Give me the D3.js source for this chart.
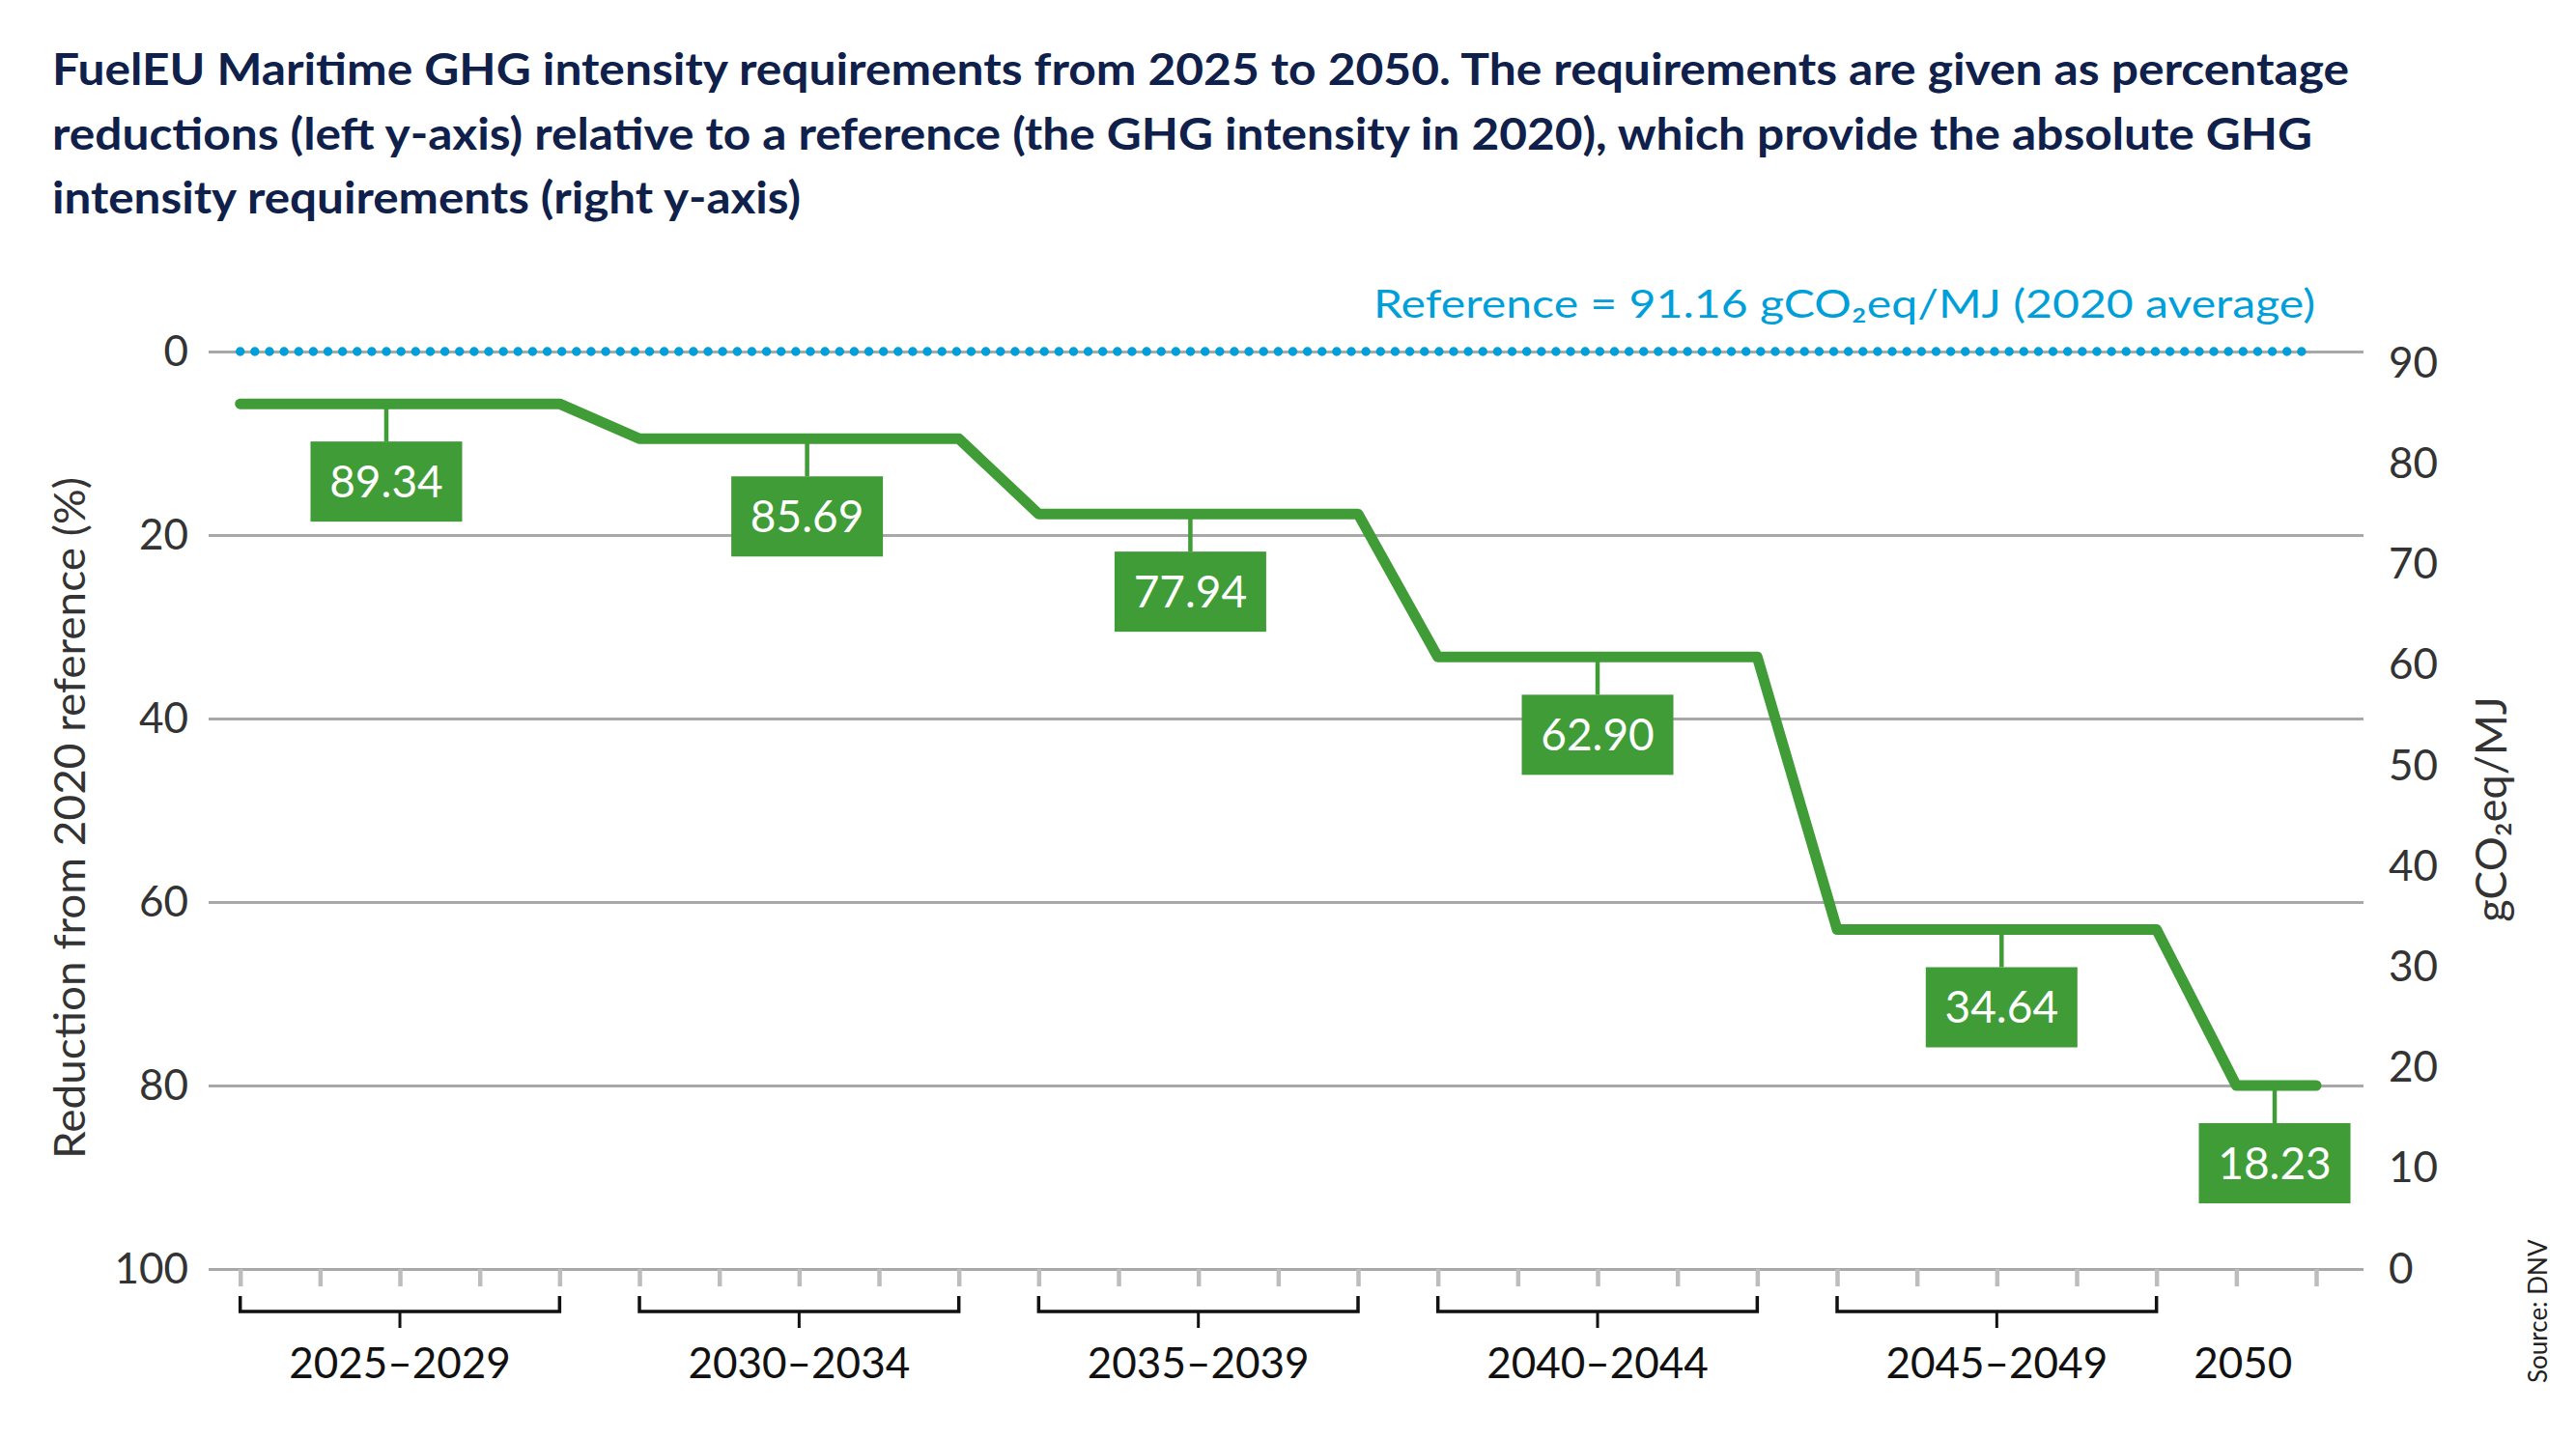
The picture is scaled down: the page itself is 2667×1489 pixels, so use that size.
<!DOCTYPE html>
<html>
<head>
<meta charset="utf-8">
<script src="https://cdn.jsdelivr.net/npm/d3@7"></script>
<style>
  html, body { margin: 0; padding: 0; background: #ffffff; }
  svg { display: block; }
  text { font-family: Lato, "Noto Sans", sans-serif; }
</style>
</head>
<body>
<svg id="chart" width="2667" height="1489"></svg>
<script>
// ---------------- data ----------------
const titleLines = [
  "FuelEU Maritime GHG intensity requirements from 2025 to 2050. The requirements are given as percentage",
  "reductions (left y-axis) relative to a reference (the GHG intensity in 2020), which provide the absolute GHG",
  "intensity requirements (right y-axis)"
];
const referenceLabel = "Reference = 91.16 gCO\u2082eq/MJ (2020 average)";
const referenceValue = 91.16;
const years = d3.range(2025, 2052);
const periodLabels = ["2025\u20132029", "2030\u20132034", "2035\u20132039", "2040\u20132044", "2045\u20132049", "2050"];
const periodStart = [2025, 2030, 2035, 2040, 2045, 2050];
const periodEnd   = [2029, 2034, 2039, 2044, 2049, 2051];
const reductionDrawn = [5.7, 9.5, 17.7, 33.3, 63.0, 80.0];   // % reduction, as plotted
const intensityValues = ["89.34", "85.69", "77.94", "62.90", "34.64", "18.23"]; // gCO2eq/MJ
const labelYear = [2026.83, 2032.1, 2036.9, 2042.0, 2047.06, 2050.48];
const leftTicks = [0, 20, 40, 60, 80, 100];
const rightTicks = [0, 10, 20, 30, 40, 50, 60, 70, 80, 90];
const leftAxisTitle = "Reduction from 2020 reference (%)";
const rightAxisTitle = "gCO\u2082eq/MJ";
const sourceText = "Source: DNV";

// ---------------- layout ----------------
const svg = d3.select("#chart");
const GREEN = "#409c36", BLUE = "#009fda", NAVY = "#0f204b", GRID = "#a8a8a8";
const gridX0 = 216, gridX1 = 2447;
const x = d3.scaleLinear().domain([2025, 2051]).range([248.7, 2398]);
const yPct = d3.scaleLinear().domain([0, 100]).range([364, 1314]);
const yAbs = d3.scaleLinear().domain([0, referenceValue]).range([1314, 364]);

// title
const titleBase = [88, 155, 221];
const titleWidths = [2378, 2340, 775];
svg.append("g").selectAll("text").data(titleLines).join("text")
  .attr("x", 54).attr("y", (d, i) => titleBase[i])
  .attr("fill", NAVY).attr("font-size", 45).attr("font-weight", 700)
  .attr("textLength", (d, i) => titleWidths[i]).attr("lengthAdjust", "spacingAndGlyphs")
  .text(d => d);

// left axis with gridlines
const gLeft = svg.append("g").attr("transform", `translate(${gridX0},0)`)
  .call(d3.axisLeft(yPct).tickValues(leftTicks).tickSize(-(gridX1 - gridX0)).tickPadding(21).tickFormat(d3.format("d")));
gLeft.select(".domain").remove();
gLeft.selectAll(".tick line").attr("stroke", GRID).attr("stroke-width", 3);
gLeft.selectAll(".tick text").attr("font-size", 44).attr("fill", "#333333")
  .attr("font-family", "Lato, 'Noto Sans', sans-serif");

// right axis
const gRight = svg.append("g").attr("transform", `translate(${gridX1},0)`)
  .call(d3.axisRight(yAbs).tickValues(rightTicks).tickSize(0).tickPadding(26).tickFormat(d3.format("d")));
gRight.select(".domain").remove();
gRight.selectAll(".tick text").attr("font-size", 44).attr("fill", "#333333")
  .attr("font-family", "Lato, 'Noto Sans', sans-serif");

// x axis year ticks
const gX = svg.append("g").attr("transform", `translate(0,${yPct(100)})`)
  .call(d3.axisBottom(x).tickValues(years).tickSize(18).tickFormat(""));
gX.select(".domain").remove();
gX.selectAll(".tick line").attr("stroke", "#bdbdbd").attr("stroke-width", 4.5);

// brackets
const bracketTop = 1342, bracketY = 1358, bracketTick = 1375;
const periods = periodLabels.map((lab, i) => ({ lab, s: periodStart[i], e: periodEnd[i], bracket: i < 5 }));
const gB = svg.append("g");
periods.filter(p => p.bracket).forEach(p => {
  const x0 = x(p.s), x1 = x(p.e), xm = x((p.s + p.e) / 2);
  gB.append("path")
    .attr("d", `M${x0},${bracketTop}V${bracketY}H${x1}V${bracketTop}`)
    .attr("fill", "none").attr("stroke", "#111").attr("stroke-width", 3.5);
  gB.append("line").attr("x1", xm).attr("x2", xm).attr("y1", bracketY).attr("y2", bracketTick)
    .attr("stroke", "#111").attr("stroke-width", 3);
});
gB.selectAll("text.period").data(periods).join("text").attr("class", "period")
  .attr("x", p => p.bracket ? x((p.s + p.e) / 2) : x(p.s) + 7)
  .attr("y", 1427).attr("text-anchor", "middle")
  .attr("font-size", 44).attr("fill", "#111").text(p => p.lab);

// reference dotted line
svg.append("line")
  .attr("x1", x(2025)).attr("x2", x(2051)).attr("y1", yPct(0)).attr("y2", yPct(0))
  .attr("stroke", BLUE).attr("stroke-width", 9.5).attr("stroke-linecap", "round")
  .attr("stroke-dasharray", `0 ${(x(2051) - x(2025)) / 142}`);
svg.append("text").attr("x", 2397).attr("y", 329).attr("text-anchor", "end")
  .attr("font-size", 40).attr("fill", BLUE)
  .attr("textLength", 975).attr("lengthAdjust", "spacingAndGlyphs")
  .text(referenceLabel);

// requirement line
const pts = [];
periods.forEach((p, i) => { pts.push([p.s, reductionDrawn[i]]); pts.push([p.e, reductionDrawn[i]]); });
svg.append("path").datum(pts)
  .attr("d", d3.line().x(d => x(d[0])).y(d => yPct(d[1])))
  .attr("fill", "none").attr("stroke", GREEN).attr("stroke-width", 11)
  .attr("stroke-linecap", "round").attr("stroke-linejoin", "round");

// value labels
const boxW = 157, boxH = 83, gap = 39;
const gL = svg.append("g");
intensityValues.forEach((v, i) => {
  const cx = x(labelYear[i]), ly = yPct(reductionDrawn[i]);
  gL.append("line").attr("x1", cx).attr("x2", cx).attr("y1", ly).attr("y2", ly + gap)
    .attr("stroke", GREEN).attr("stroke-width", 4.5);
  gL.append("rect").attr("x", cx - boxW / 2).attr("y", ly + gap).attr("width", boxW).attr("height", boxH)
    .attr("fill", GREEN);
  gL.append("text").attr("x", cx).attr("y", ly + gap + boxH / 2 + 16).attr("text-anchor", "middle")
    .attr("font-size", 46).attr("fill", "#ffffff").text(v);
});

// axis titles
svg.append("text").attr("transform", "translate(88,847) rotate(-90)")
  .attr("text-anchor", "middle").attr("font-size", 45).attr("fill", "#333333")
  .attr("textLength", 706).attr("lengthAdjust", "spacingAndGlyphs")
  .text(leftAxisTitle);
svg.append("text").attr("transform", "translate(2595,838) rotate(-90)")
  .attr("text-anchor", "middle").attr("font-size", 45).attr("fill", "#333333")
  .text(rightAxisTitle);
svg.append("text").attr("transform", "translate(2637,1432) rotate(-90)")
  .attr("text-anchor", "start").attr("font-size", 26).attr("fill", "#222222")
  .text(sourceText);
</script>
</body>
</html>
